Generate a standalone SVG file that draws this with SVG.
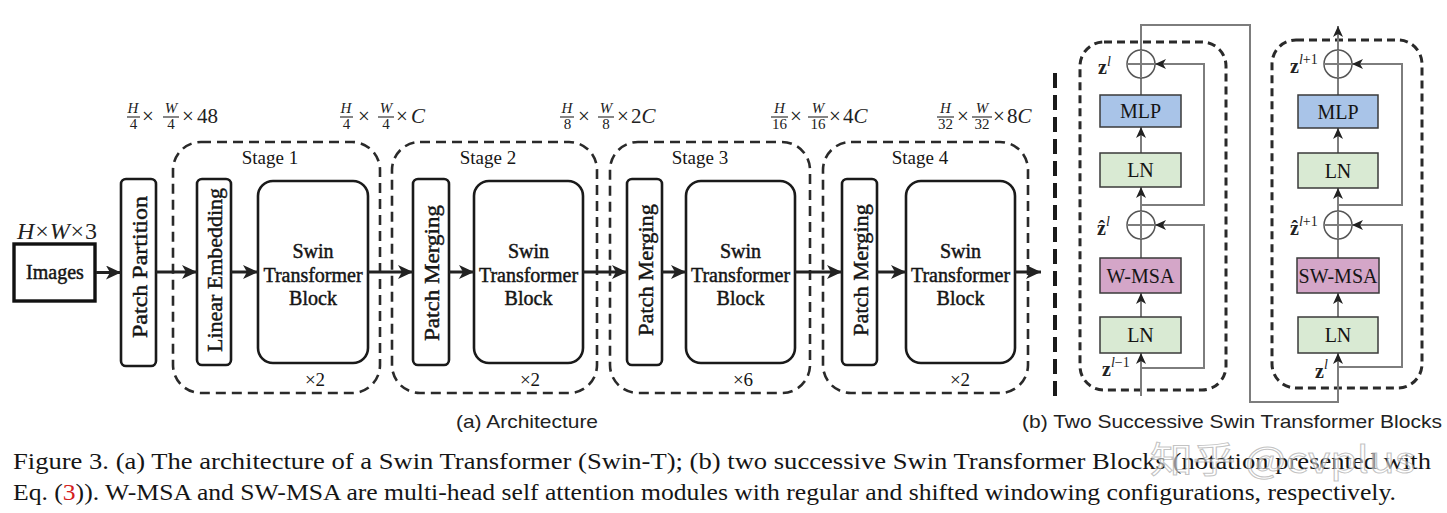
<svg xmlns="http://www.w3.org/2000/svg" width="1447" height="513" viewBox="0 0 1447 513">
<style>
.bg{fill:#fff}
.blk{fill:#fff;stroke:#1a1a1a;stroke-width:2.6}
.img{fill:#fff;stroke:#111;stroke-width:3.4}
.stage{fill:none;stroke:#2a2a2a;stroke-width:2.6;stroke-dasharray:10 6}
.sep{fill:none;stroke:#1a1a1a;stroke-width:4;stroke-dasharray:15 7}
.arr{stroke:#222;stroke-width:3;fill:none}
.t{font-family:"Liberation Serif","DejaVu Serif",serif;fill:#151515}
.w{stroke:#151515;stroke-width:0.45}
.m{font-family:"Liberation Serif","DejaVu Serif",serif;fill:#222}
.fr{font-size:15px}
.mn{font-size:21px}
.s{font-family:"Liberation Sans","DejaVu Sans",sans-serif;fill:#222}
.gl{stroke:#7d7d7d;stroke-width:2;fill:none}
.bb{stroke:#3a3a3a;stroke-width:1.5}
.sum{fill:#fff;stroke:#555;stroke-width:1.5}
.bdash{fill:none;stroke:#2a2a2a;stroke-width:3;stroke-dasharray:8 5}
.bar{stroke:#222;stroke-width:1.1}
</style>
<defs>
<marker id="ah" markerUnits="userSpaceOnUse" markerWidth="16" markerHeight="14" refX="15" refY="7" orient="auto"><path d="M0,0 L15,7 L0,14 L4,7 z" fill="#222"/></marker>
<marker id="bh" markerUnits="userSpaceOnUse" markerWidth="12" markerHeight="10" refX="11" refY="5" orient="auto"><path d="M0,0 L11,5 L0,10 L3,5 z" fill="#222"/></marker>
</defs>
<rect class="bg" x="0" y="0" width="1447" height="513"/>

<!-- dimension labels -->
<g id="dims">
  <g id="dim1">
    <text class="m fr" x="133" y="113" font-style="italic" text-anchor="middle">H</text>
    <line class="bar" x1="127" y1="117" x2="140" y2="117"/>
    <text class="m fr" x="133.5" y="129" text-anchor="middle">4</text>
    <text class="m mn" x="148" y="123" text-anchor="middle">×</text>
    <text class="m fr" x="171" y="113" font-style="italic" text-anchor="middle">W</text>
    <line class="bar" x1="163" y1="117" x2="179" y2="117"/>
    <text class="m fr" x="171" y="129" text-anchor="middle">4</text>
    <text class="m mn" x="188" y="123" text-anchor="middle">×</text>
    <text class="m mn" x="197" y="123">48</text>
  </g>
  <g id="dim2">
    <text class="m fr" x="346" y="113" font-style="italic" text-anchor="middle">H</text>
    <line class="bar" x1="340" y1="117" x2="353" y2="117"/>
    <text class="m fr" x="346.5" y="129" text-anchor="middle">4</text>
    <text class="m mn" x="364" y="123" text-anchor="middle">×</text>
    <text class="m fr" x="386" y="113" font-style="italic" text-anchor="middle">W</text>
    <line class="bar" x1="378" y1="117" x2="394" y2="117"/>
    <text class="m fr" x="386" y="129" text-anchor="middle">4</text>
    <text class="m mn" x="402" y="123" text-anchor="middle">×</text>
    <text class="m mn" x="411" y="123" font-style="italic">C</text>
  </g>
  <g id="dim3">
    <text class="m fr" x="567" y="113" font-style="italic" text-anchor="middle">H</text>
    <line class="bar" x1="560" y1="117" x2="574" y2="117"/>
    <text class="m fr" x="567.5" y="129" text-anchor="middle">8</text>
    <text class="m mn" x="584" y="123" text-anchor="middle">×</text>
    <text class="m fr" x="606" y="113" font-style="italic" text-anchor="middle">W</text>
    <line class="bar" x1="598" y1="117" x2="614" y2="117"/>
    <text class="m fr" x="606" y="129" text-anchor="middle">8</text>
    <text class="m mn" x="623" y="123" text-anchor="middle">×</text>
    <text class="m mn" x="631" y="123">2<tspan font-style="italic">C</tspan></text>
  </g>
  <g id="dim4">
    <text class="m fr" x="779.5" y="113" font-style="italic" text-anchor="middle">H</text>
    <line class="bar" x1="771" y1="117" x2="788" y2="117"/>
    <text class="m fr" x="779.5" y="129" text-anchor="middle">16</text>
    <text class="m mn" x="796" y="123" text-anchor="middle">×</text>
    <text class="m fr" x="818" y="113" font-style="italic" text-anchor="middle">W</text>
    <line class="bar" x1="808" y1="117" x2="828" y2="117"/>
    <text class="m fr" x="818" y="129" text-anchor="middle">16</text>
    <text class="m mn" x="835" y="123" text-anchor="middle">×</text>
    <text class="m mn" x="843" y="123">4<tspan font-style="italic">C</tspan></text>
  </g>
  <g id="dim5">
    <text class="m fr" x="945.5" y="113" font-style="italic" text-anchor="middle">H</text>
    <line class="bar" x1="937" y1="117" x2="954" y2="117"/>
    <text class="m fr" x="945.5" y="129" text-anchor="middle">32</text>
    <text class="m mn" x="963" y="123" text-anchor="middle">×</text>
    <text class="m fr" x="982" y="113" font-style="italic" text-anchor="middle">W</text>
    <line class="bar" x1="972" y1="117" x2="992" y2="117"/>
    <text class="m fr" x="982" y="129" text-anchor="middle">32</text>
    <text class="m mn" x="999" y="123" text-anchor="middle">×</text>
    <text class="m mn" x="1007" y="123">8<tspan font-style="italic">C</tspan></text>
  </g>
  <text class="m" x="17" y="239" font-size="24" textLength="80" lengthAdjust="spacing"><tspan font-style="italic">H</tspan>×<tspan font-style="italic">W</tspan>×3</text>
</g>

<!-- stage containers -->
<g id="stages">
  <g id="stage1"><rect class="stage" x="173" y="142" width="207" height="251" rx="28"/><text class="t" x="270" y="164" font-size="19" text-anchor="middle">Stage 1</text><text class="t" x="315" y="386" font-size="19" text-anchor="middle">×2</text></g>
  <g id="stage2"><rect class="stage" x="392" y="142" width="205" height="251" rx="28"/><text class="t" x="488" y="164" font-size="19" text-anchor="middle">Stage 2</text><text class="t" x="530" y="386" font-size="19" text-anchor="middle">×2</text></g>
  <g id="stage3"><rect class="stage" x="610" y="142" width="200" height="251" rx="28"/><text class="t" x="700" y="164" font-size="19" text-anchor="middle">Stage 3</text><text class="t" x="743" y="386" font-size="19" text-anchor="middle">×6</text></g>
  <g id="stage4"><rect class="stage" x="823" y="142" width="205" height="251" rx="28"/><text class="t" x="920" y="164" font-size="19" text-anchor="middle">Stage 4</text><text class="t" x="960" y="386" font-size="19" text-anchor="middle">×2</text></g>
</g>

<!-- nodes (a) -->
<g id="images"><rect class="img" x="14" y="244" width="81" height="57"/><text class="t w" x="55" y="279" font-size="20" text-anchor="middle">Images</text></g>
<g id="patch-partition"><rect class="blk" x="121" y="179" width="35" height="187" rx="5"/><text class="t w" font-size="22" text-anchor="middle" transform="translate(146.5,267) rotate(-90)" textLength="142" lengthAdjust="spacingAndGlyphs">Patch Partition</text></g>
<g id="linear-embedding"><rect class="blk" x="197" y="179" width="34" height="186" rx="5"/><text class="t w" font-size="22" text-anchor="middle" transform="translate(222,270) rotate(-90)" textLength="164" lengthAdjust="spacingAndGlyphs">Linear Embedding</text></g>
<g id="swin1"><rect class="blk" x="258" y="181" width="110" height="182" rx="15"/><text class="t w" font-size="20" text-anchor="middle"><tspan x="313" y="258">Swin</tspan><tspan x="313" y="282">Transformer</tspan><tspan x="313" y="305">Block</tspan></text></g>
<g id="merge2"><rect class="blk" x="413" y="179" width="36" height="186" rx="5"/><text class="t w" font-size="22" text-anchor="middle" transform="translate(439,273) rotate(-90)" textLength="136" lengthAdjust="spacingAndGlyphs">Patch Merging</text></g>
<g id="swin2"><rect class="blk" x="474" y="181" width="109" height="182" rx="15"/><text class="t w" font-size="20" text-anchor="middle"><tspan x="528.5" y="258">Swin</tspan><tspan x="528.5" y="282">Transformer</tspan><tspan x="528.5" y="305">Block</tspan></text></g>
<g id="merge3"><rect class="blk" x="627" y="179" width="35" height="186" rx="5"/><text class="t w" font-size="22" text-anchor="middle" transform="translate(652.5,270) rotate(-90)" textLength="132" lengthAdjust="spacingAndGlyphs">Patch Merging</text></g>
<g id="swin3"><rect class="blk" x="686" y="181" width="109" height="182" rx="15"/><text class="t w" font-size="20" text-anchor="middle"><tspan x="740.5" y="258">Swin</tspan><tspan x="740.5" y="282">Transformer</tspan><tspan x="740.5" y="305">Block</tspan></text></g>
<g id="merge4"><rect class="blk" x="842" y="179" width="35" height="186" rx="5"/><text class="t w" font-size="22" text-anchor="middle" transform="translate(867.5,270) rotate(-90)" textLength="132" lengthAdjust="spacingAndGlyphs">Patch Merging</text></g>
<g id="swin4"><rect class="blk" x="906" y="181" width="109" height="182" rx="15"/><text class="t w" font-size="20" text-anchor="middle"><tspan x="960.5" y="258">Swin</tspan><tspan x="960.5" y="282">Transformer</tspan><tspan x="960.5" y="305">Block</tspan></text></g>

<path class="sep" d="M1055,73 V396"/>

<!-- (b) containers -->
<g id="blocks-b">
  <rect class="bdash" x="1080" y="42" width="146" height="348" rx="24"/>
  <rect class="bdash" x="1272" y="40" width="150" height="348" rx="24"/>
</g>

<!-- connectors -->
<g id="connectors">
  <line class="arr" x1="96" y1="272.5" x2="121" y2="272.5" marker-end="url(#ah)"/>
  <line class="arr" x1="156" y1="272" x2="197" y2="272" marker-end="url(#ah)"/>
  <line class="arr" x1="231" y1="272" x2="258" y2="272" marker-end="url(#ah)"/>
  <line class="arr" x1="368" y1="272" x2="413" y2="272" marker-end="url(#ah)"/>
  <line class="arr" x1="449" y1="272" x2="474" y2="272" marker-end="url(#ah)"/>
  <line class="arr" x1="583" y1="272" x2="627" y2="272" marker-end="url(#ah)"/>
  <line class="arr" x1="662" y1="272" x2="686" y2="272" marker-end="url(#ah)"/>
  <line class="arr" x1="795" y1="272" x2="842" y2="272" marker-end="url(#ah)"/>
  <line class="arr" x1="877" y1="272" x2="906" y2="272" marker-end="url(#ah)"/>
  <line class="arr" x1="1015" y1="272" x2="1041" y2="272" marker-end="url(#ah)"/>

  <!-- block 1 main path -->
  <line class="gl" x1="1141" y1="396" x2="1141" y2="353" marker-end="url(#bh)"/>
  <line class="gl" x1="1141" y1="317" x2="1141" y2="293" marker-end="url(#bh)"/>
  <line class="gl" x1="1141" y1="258" x2="1141" y2="239"/>
  <line class="gl" x1="1141" y1="211" x2="1141" y2="187" marker-end="url(#bh)"/>
  <line class="gl" x1="1141" y1="153" x2="1141" y2="127" marker-end="url(#bh)"/>
  <line class="gl" x1="1141" y1="95" x2="1141" y2="78"/>
  <polyline class="gl" points="1141,368 1204,368 1204,225 1155,225" marker-end="url(#bh)"/>
  <polyline class="gl" points="1141,205 1204,205 1204,64 1155,64" marker-end="url(#bh)"/>
  <polyline class="gl" points="1141,50 1141,25 1250,25 1250,402 1338,402 1338,353" marker-end="url(#bh)"/>

  <!-- block 2 main path -->
  <line class="gl" x1="1338" y1="317" x2="1338" y2="293" marker-end="url(#bh)"/>
  <line class="gl" x1="1338" y1="258" x2="1338" y2="239"/>
  <line class="gl" x1="1338" y1="211" x2="1338" y2="188" marker-end="url(#bh)"/>
  <line class="gl" x1="1338" y1="153" x2="1338" y2="128" marker-end="url(#bh)"/>
  <line class="gl" x1="1338" y1="95" x2="1338" y2="78"/>
  <line class="gl" x1="1338" y1="50" x2="1338" y2="26" marker-end="url(#bh)"/>
  <polyline class="gl" points="1338,367 1402,367 1402,225 1352,225" marker-end="url(#bh)"/>
  <polyline class="gl" points="1338,205 1402,205 1402,64 1352,64" marker-end="url(#bh)"/>
</g>

<!-- (b) nodes -->
<g id="b1-ln1"><rect class="bb" x="1100" y="317" width="81" height="36" fill="#d9ead3"/><text class="t" x="1140.5" y="342" font-size="20" text-anchor="middle" fill="#2a2a2a">LN</text></g>
<g id="b1-wmsa"><rect class="bb" x="1100" y="258" width="81" height="35" fill="#d4a6c8"/><text class="t" x="1140.5" y="283" font-size="20" text-anchor="middle" fill="#2a2a2a">W-MSA</text></g>
<g id="b1-sum1"><circle class="sum" cx="1141" cy="225" r="14"/><path class="gl" d="M1127,225 H1155 M1141,211 V239" stroke="#555" stroke-width="1.5"/></g>
<g id="b1-ln2"><rect class="bb" x="1100" y="153" width="81" height="34" fill="#d9ead3"/><text class="t" x="1140.5" y="177" font-size="20" text-anchor="middle" fill="#2a2a2a">LN</text></g>
<g id="b1-mlp"><rect class="bb" x="1100" y="95" width="81" height="32" fill="#a9c4e8"/><text class="t" x="1140.5" y="118" font-size="20" text-anchor="middle" fill="#2a2a2a">MLP</text></g>
<g id="b1-sum2"><circle class="sum" cx="1141" cy="64" r="14"/><path class="gl" d="M1127,64 H1155 M1141,50 V78" stroke="#555" stroke-width="1.5"/></g>

<g id="b2-ln1"><rect class="bb" x="1298" y="317" width="80" height="36" fill="#d9ead3"/><text class="t" x="1338" y="342" font-size="20" text-anchor="middle" fill="#2a2a2a">LN</text></g>
<g id="b2-swmsa"><rect class="bb" x="1297" y="258" width="82" height="35" fill="#d4a6c8"/><text class="t" x="1338" y="283" font-size="20" text-anchor="middle" fill="#2a2a2a">SW-MSA</text></g>
<g id="b2-sum1"><circle class="sum" cx="1338" cy="225" r="14"/><path class="gl" d="M1324,225 H1352 M1338,211 V239" stroke="#555" stroke-width="1.5"/></g>
<g id="b2-ln2"><rect class="bb" x="1298" y="153" width="80" height="35" fill="#d9ead3"/><text class="t" x="1338" y="178" font-size="20" text-anchor="middle" fill="#2a2a2a">LN</text></g>
<g id="b2-mlp"><rect class="bb" x="1298" y="95" width="80" height="33" fill="#a9c4e8"/><text class="t" x="1338" y="119" font-size="20" text-anchor="middle" fill="#2a2a2a">MLP</text></g>
<g id="b2-sum2"><circle class="sum" cx="1338" cy="64" r="14"/><path class="gl" d="M1324,64 H1352 M1338,50 V78" stroke="#555" stroke-width="1.5"/></g>

<!-- math labels (b) -->
<g id="b-labels" class="m">
  <text x="1098" y="74" font-size="20"><tspan font-weight="bold">z</tspan><tspan font-style="italic" font-size="14" dy="-8">l</tspan></text>
  <text x="1097" y="235" font-size="20"><tspan font-weight="bold">ẑ</tspan><tspan font-style="italic" font-size="14" dy="-9">l</tspan></text>
  <text x="1102" y="376" font-size="20"><tspan font-weight="bold">z</tspan><tspan font-size="14" dy="-9"><tspan font-style="italic">l</tspan>−1</tspan></text>
  <text x="1290" y="73" font-size="20"><tspan font-weight="bold">z</tspan><tspan font-size="14" dy="-9"><tspan font-style="italic">l</tspan>+1</tspan></text>
  <text x="1290" y="235" font-size="20"><tspan font-weight="bold">ẑ</tspan><tspan font-size="14" dy="-9"><tspan font-style="italic">l</tspan>+1</tspan></text>
  <text x="1315" y="378" font-size="20"><tspan font-weight="bold">z</tspan><tspan font-style="italic" font-size="14" dy="-9">l</tspan></text>
</g>

<!-- captions -->
<g id="captions">
  <text class="s" x="527" y="428" font-size="19" text-anchor="middle" textLength="142" lengthAdjust="spacingAndGlyphs">(a) Architecture</text>
  <text class="s" x="1022" y="428" font-size="19" textLength="420" lengthAdjust="spacingAndGlyphs">(b) Two Successive Swin Transformer Blocks</text>
  <text class="t" x="13" y="469" font-size="24" fill="#1a1a1a" textLength="1418" lengthAdjust="spacingAndGlyphs">Figure 3. (a) The architecture of a Swin Transformer (Swin-T); (b) two successive Swin Transformer Blocks (notation presented with</text>
  <text class="t" x="13" y="500" font-size="24" fill="#1a1a1a" textLength="1383" lengthAdjust="spacingAndGlyphs">Eq. (<tspan fill="#d42020">3</tspan>)). W-MSA and SW-MSA are multi-head self attention modules with regular and shifted windowing configurations, respectively.</text>
  <text x="1150" y="473" font-family="'Noto Sans CJK SC','Noto Sans',sans-serif" font-size="36" fill="#ffffff" fill-opacity="0.55" stroke="#9a9a9a" stroke-opacity="0.6" stroke-width="1" textLength="265" lengthAdjust="spacingAndGlyphs">知乎 @cvplus</text>
</g>
</svg>
